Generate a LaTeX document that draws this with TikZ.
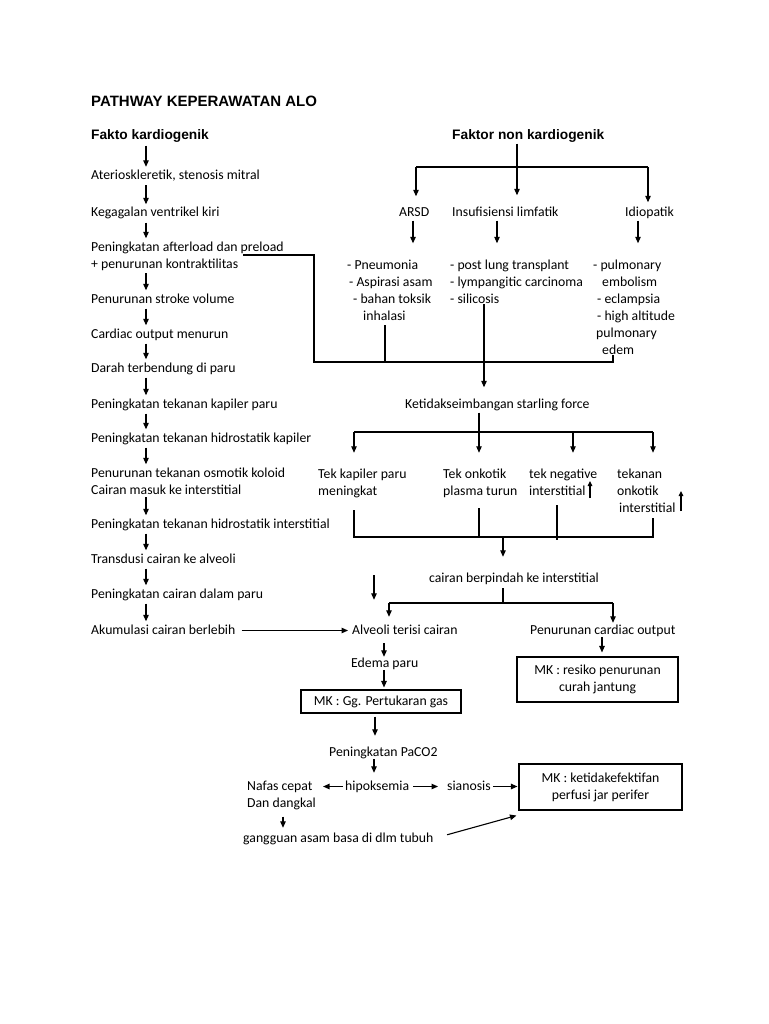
\documentclass[tikz,border=0pt]{standalone}
\usepackage{fontspec}
\setmainfont{Carlito}
\newfontfamily\headfont{Liberation Sans}
\usetikzlibrary{arrows.meta,calc}
\begin{document}
\begin{tikzpicture}[x=1pt,y=-1pt,
  body/.style={inner sep=0pt, anchor=base west, font=\fontsize{13.75}{17}\selectfont},
  sl/.style={body, text height=9.5pt, text depth=2.5pt},
  ml/.style={body, align=left},
  head/.style={inner sep=0pt, anchor=base west, font=\headfont\bfseries\fontsize{13.75}{17}\selectfont},
  arr/.style={-{Triangle[length=6.5pt,width=5.5pt]}, line width=1.1pt},
  uparr/.style={-{Triangle[length=5pt,width=4.5pt]}, line width=1.1pt},
  ln/.style={line width=1.1pt},
  box/.style={draw, line width=1.1pt, inner sep=0pt, align=center, font=\fontsize{13.75}{17}\selectfont}
]
\useasboundingbox (0,0) rectangle (768,1024);
\fill[white] (0,0) rectangle (768,1024);

% title
\node[head, font=\headfont\bfseries\fontsize{15}{18}\selectfont] (title) at (91,107) {PATHWAY KEPERAWATAN ALO};

% left column (multi-line nodes are placed by the baseline of their last line)
\node[head] (fk) at (91,139.5) {Fakto kardiogenik};
\node[sl] (l1) at (91,179.5) {Aterioskleretik, stenosis mitral};
\node[sl] (l2) at (91,217) {Kegagalan ventrikel kiri};
\node[ml] (l3) at (91,268) {Peningkatan afterload dan preload\\+ penurunan kontraktilitas};
\node[sl] (l4) at (91,303) {Penurunan stroke volume};
\node[sl] (l5) at (91,338) {Cardiac output menurun};
\node[sl] (l6) at (91,372) {Darah terbendung di paru};
\node[sl] (l7) at (91,408) {Peningkatan tekanan kapiler paru};
\node[sl] (l8) at (91,442) {Peningkatan tekanan hidrostatik kapiler};
\node[ml] (l9) at (91,494) {Penurunan tekanan osmotik koloid\\Cairan masuk ke interstitial};
\node[sl] (l10) at (91,528) {Peningkatan tekanan hidrostatik interstitial};
\node[sl] (l11) at (91,563) {Transdusi cairan ke alveoli};
\node[sl] (l12) at (91,598) {Peningkatan cairan dalam paru};
\node[sl] (l13) at (91,634) {Akumulasi cairan berlebih};

\coordinate (cx) at (146,0);
\foreach \a/\b in {fk/l1,l1/l2,l2/l3,l3/l4,l4/l5,l5/l6,l6/l7,l7/l8,l8/l9,l9/l10,l10/l11,l11/l12,l12/l13}
  \draw[arr, shorten <=3pt, shorten >=3pt] (\a.south -| cx) -- (\b.north -| cx);

% right top
\node[head] (fnk) at (452,139.5) {Faktor non kardiogenik};
\node[sl] (arsd) at (399,217) {ARSD};
\node[sl] (ins) at (452,217) {Insufisiensi limfatik};
\node[sl] (idio) at (625,217) {Idiopatik};

\coordinate (bL) at (416,167);
\coordinate (bR) at (648,167);
\draw[arr, shorten <=1pt, shorten >=12pt] (fnk.south -| 517,0) -- (ins.north -| 517,0);
\draw[ln] (bL) -- (bR);
\draw[arr, shorten >=11pt] (bL) -- (arsd.north -| bL);
\draw[arr, shorten >=5pt] (bR) -- (idio.north -| bR);

\node[ml] (pn) at (347,320) {- Pneumonia\\\hspace*{2pt}- Aspirasi asam\\\hspace*{6pt}- bahan toksik\\\hspace*{16pt}inhalasi};
\node[ml] (pl) at (450,303) {- post lung transplant\\- lympangitic carcinoma\\- silicosis};
\node[ml] (pu) at (593,354) {- pulmonary\\\hspace*{9pt}embolism\\\hspace*{4pt}- eclampsia\\\hspace*{4pt}- high altitude\\\hspace*{3pt}pulmonary\\\hspace*{9pt}edem};

\draw[arr, shorten <=1pt, shorten >=16pt] (arsd.south -| 413,0) -- (pn.north -| 413,0);
\draw[arr, shorten <=1pt, shorten >=16pt] (ins.south -| 497,0) -- (pl.north -| 497,0);
\draw[arr, shorten <=1pt, shorten >=16pt] (idio.south -| 638,0) -- (pu.north -| 638,0);

% merging lines into starling force
\draw[ln] (243,255) -| (314,362) -- (613,362) -- (613,355);
\draw[ln] (385,325) -- (385,362);

\node[sl] (ks) at (405,408) {Ketidakseimbangan starling force};
\draw[arr, shorten <=1pt, shorten >=11pt] (pl.south -| 484,0) -- (ks.north -| 484,0);

% starling branches
\draw[ln, shorten <=2pt] (ks.south -| 479,0) -- (479,432);
\draw[ln] (354,432) -- (653,432);

\node[ml] (tk) at (318,495) {Tek kapiler paru\\meningkat};
\node[ml] (to) at (443,495) {Tek onkotik\\plasma turun};
\node[ml] (tn) at (529,495) {tek negative\\interstitial};
\node[ml] (te) at (617,512) {tekanan\\onkotik\\\hspace*{2pt}interstitial};

\foreach \x/\n in {354/tk,479/to,573/tn,653/te}
  \draw[arr, shorten >=15.5pt] (\x,432) -- (\n.north -| \x,0);

\draw[uparr] (590,498) -- (590,481);
\draw[uparr] (681,511) -- (681,491);

\draw[ln] (354,510) -- (354,537) -- (653,537) -- (653,518);
\draw[ln] (479,508) -- (479,537);
\draw[ln] (557,505) -- (557,540);

\node[sl] (cb) at (429,582) {cairan berpindah ke interstitial};
\draw[arr, shorten >=15.5pt] (503,537) -- (cb.north -| 503,0);
\draw[ln, shorten <=3.5pt] (cb.south -| 503,0) -- (503,603);
\draw[ln] (389,603) -- (613,603);

\node[sl] (alv) at (352,634) {Alveoli terisi cairan};
\node[sl] (pco) at (530,634) {Penurunan cardiac output};
\draw[arr, shorten >=7.5pt] (389,603) -- (alv.north -| 389,0);
\draw[arr, shorten >=1.5pt] (613,603) -- (pco.north -| 613,0);
\draw[arr, shorten >=24.5pt] (374,575) -- (alv.north -| 374,0);

\draw[arr, shorten <=6pt, shorten >=4pt] (l13.east) -- (alv.west);

\node[sl] (ed) at (351,667) {Edema paru};
\node[box, minimum width=160pt, minimum height=23pt] (mk1) at (381,701.5) {MK : Gg. Pertukaran gas};
\draw[arr, shorten <=6.5pt, shorten >=0.5pt] (alv.south -| 384,0) -- (ed.north -| 384,0);
\draw[arr, shorten <=0.5pt, shorten >=2pt] (ed.south -| 384,0) -- (mk1.north -| 384,0);

\node[box, minimum width=161pt, minimum height=45pt] (mk2) at (597.5,679.5) {MK : resiko penurunan\\curah jantung};
\draw[arr, shorten <=0.5pt, shorten >=4pt] (pco.south -| 602,0) -- (mk2.north -| 602,0);

\node[sl] (pa) at (329,756) {Peningkatan PaCO2};
\draw[arr, shorten <=3pt, shorten >=10.5pt] (mk1.south -| 375,0) -- (pa.north -| 375,0);

\node[sl] (hip) at (345,790) {hipoksemia};
\node[ml] (nf) at (247,807) {Nafas cepat\\Dan dangkal};
\node[sl] (si) at (447,790) {sianosis};
\node[box, minimum width=163pt, minimum height=46pt] (mk3) at (600.5,787) {MK : ketidakefektifan\\perfusi jar perifer};
\draw[arr, shorten <=0.5pt, shorten >=7.5pt] (pa.south -| 374,0) -- (hip.north -| 374,0);

\draw[arr, shorten <=2pt, shorten >=7pt] (hip.west) -- (hip.west -| nf.east);
\draw[arr, shorten <=4pt, shorten >=9pt] (hip.east) -- (si.west);
\draw[arr, shorten <=2pt, shorten >=1pt] (si.east) -- (si.east -| mk3.west);

\node[sl] (gg) at (243,842) {gangguan asam basa di dlm tubuh};
\draw[arr, shorten <=7pt, shorten >=4.5pt] (nf.south -| 283,0) -- (gg.north -| 283,0);
\draw[arr, shorten <=14pt] (gg.east) -- ($(mk3.south west)+(-2,5)$);

\end{tikzpicture}
\end{document}
